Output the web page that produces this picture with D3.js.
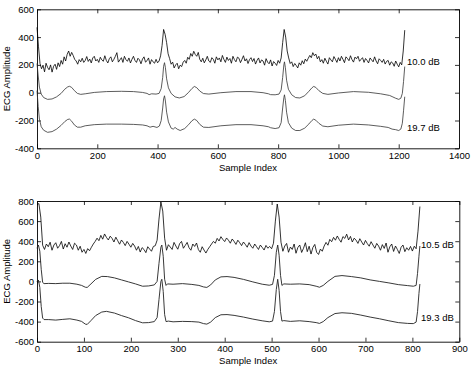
<!DOCTYPE html>
<html>
<head>
<meta charset="utf-8">
<script src="https://cdn.jsdelivr.net/npm/d3@7"></script>
<style>
  body { margin: 0; background: #fff; }
  svg text { font-family: "Liberation Sans", Arial, sans-serif; }
</style>
</head>
<body>
<svg id="chart"></svg>
<script>
// ---- data ----
// Top panel: noisy trace (10.0 dB), one value every 5 samples from 0
const topNoisyStep = 5;
const topNoisy = [
  470,330,210,172,198,150,212,182,165,200,
  148,190,205,168,215,188,232,205,258,228,
  275,300,262,290,268,240,228,205,238,222,
  248,218,232,260,225,242,214,250,262,228,
  240,218,255,236,226,266,232,214,245,258,
  222,240,262,288,220,236,252,218,262,238,
  226,250,214,240,262,232,218,248,236,208,
  242,258,220,230,250,205,238,222,212,240,
  215,228,265,340,455,420,360,280,245,205,
  220,178,200,212,172,198,188,220,232,212,
  255,240,282,262,298,275,262,290,240,222,
  248,215,236,262,228,218,252,240,212,258,
  236,250,222,268,240,218,256,232,246,212,
  262,238,222,256,248,216,240,266,228,244,
  210,238,252,224,246,206,232,250,214,236,
  228,198,245,220,208,236,192,224,212,196,
  232,212,250,360,455,400,300,250,210,222,
  188,210,196,178,215,198,230,208,242,226,
  248,268,252,288,266,278,244,262,222,238,
  212,248,226,206,252,236,222,260,240,218,
  252,228,262,240,216,258,246,230,266,238,
  220,256,244,262,226,240,252,218,246,232,
  214,250,236,222,258,228,208,244,232,218,
  240,206,226,232,198,222,214,190,228,205,
  186,218,200,300,450
];

// Top panel: clean reference trace, [sample, amplitude]
const topClean = [
  [0,210],[4,120],[8,40],[14,-10],[22,-35],[35,-48],[50,-45],[65,-30],[80,-5],[92,25],
  [102,42],[108,46],[115,38],[124,15],[134,-5],[145,-12],[160,-8],[190,2],[230,8],[280,10],
  [320,8],[350,2],[365,-5],[372,-14],[380,-8],[395,-10],[405,-5],[412,30],[417,110],[420,190],
  [423,216],[426,180],[430,100],[436,35],[445,-5],[458,-30],[472,-38],[488,-28],[502,0],[514,30],
  [522,45],[530,36],[540,12],[552,-6],[570,-10],[610,0],[660,8],[710,8],[750,0],[768,-8],
  [775,-14],[790,-15],[803,-10],[810,20],[815,110],[819,200],[821,222],[824,180],[828,90],[834,25],
  [845,-15],[858,-35],[872,-38],[888,-22],[902,10],[912,35],[918,45],[925,38],[935,15],[948,-5],
  [965,-12],[1000,-2],[1050,8],[1100,3],[1140,-8],[1170,-20],[1178,-28],[1190,-40],[1200,-48],[1207,-40],
  [1212,-5],[1216,80],[1220,188]
];

// Top panel: denoised trace (19.7 dB), [sample, amplitude]
const topDenoised = [
  [0,15],[4,-100],[8,-190],[14,-245],[22,-270],[35,-285],[50,-280],[65,-262],[80,-235],[92,-208],
  [102,-192],[108,-190],[115,-205],[124,-232],[134,-248],[145,-248],[160,-238],[190,-230],[230,-226],[280,-226],
  [320,-228],[350,-232],[365,-238],[375,-248],[385,-242],[398,-250],[406,-240],[412,-200],[417,-110],[420,-45],
  [423,-22],[426,-60],[430,-140],[436,-210],[445,-255],[452,-262],[458,-250],[465,-262],[475,-272],[490,-258],
  [503,-230],[514,-202],[522,-190],[530,-200],[540,-228],[552,-248],[570,-250],[610,-238],[660,-230],[710,-230],
  [750,-238],[768,-245],[775,-252],[790,-258],[803,-252],[810,-215],[815,-110],[819,-35],[821,-15],[824,-55],
  [828,-140],[834,-215],[845,-255],[858,-272],[872,-272],[888,-255],[902,-225],[912,-200],[918,-190],[925,-198],
  [935,-220],[948,-240],[965,-245],[1000,-234],[1050,-226],[1100,-232],[1140,-242],[1165,-250],[1178,-262],[1190,-266],
  [1200,-272],[1207,-262],[1212,-220],[1216,-130],[1220,-29]
];

// Bottom panel: noisy trace (10.5 dB), one value every 4 samples from 0
const botNoisyStep = 4;
const botNoisy = [
  760,775,640,360,318,372,345,390,310,362,
  385,330,356,398,322,375,340,392,352,318,
  380,362,310,350,290,318,278,326,305,340,
  372,398,430,405,458,420,472,438,412,450,
  428,392,440,405,370,412,388,356,398,370,
  340,378,352,310,348,292,336,318,286,345,
  322,300,348,355,410,620,790,700,430,310,
  365,342,318,388,352,320,376,398,330,358,
  388,335,310,372,348,382,316,290,345,312,
  282,318,345,372,398,380,428,402,445,418,
  396,432,410,380,422,398,368,410,385,356,
  392,368,340,386,352,330,372,345,318,362,
  338,312,358,330,348,325,380,600,770,640,
  390,300,352,378,290,342,318,372,280,338,
  362,288,330,385,296,350,272,338,368,290,
  268,322,300,352,388,360,418,395,438,410,
  452,418,390,446,428,470,412,448,392,430,
  410,378,425,392,362,408,376,350,395,362,
  330,378,352,310,366,328,382,290,345,372,
  298,352,318,278,340,362,296,335,310,348,
  302,350,325,500,745
];

// Bottom panel: clean reference trace, [sample, amplitude]
const botClean = [
  [0,330],[3,362],[6,300],[9,120],[12,-10],[15,-22],[25,-20],[40,-22],[55,-18],[70,-18],
  [85,-28],[95,-40],[103,-58],[107,-60],[115,-25],[125,20],[138,50],[150,48],[165,35],[180,15],
  [195,-5],[210,-25],[225,-48],[238,-45],[250,-35],[256,0],[260,180],[264,340],[266,362],[269,250],
  [272,20],[275,-40],[278,-25],[290,-28],[310,-22],[330,-30],[345,-40],[355,-55],[362,-60],[370,-35],
  [380,15],[392,45],[405,48],[420,40],[440,20],[460,-5],[480,-28],[495,-38],[502,-30],[506,60],
  [510,290],[513,362],[516,260],[519,60],[522,-40],[526,-25],[540,-28],[560,-25],[580,-32],[595,-48],
  [602,-58],[610,-40],[620,0],[635,50],[650,58],[670,48],[690,35],[710,15],[730,0],[750,-15],
  [770,-32],[790,-42],[802,-48],[808,-40],[811,80],[814,250],[816,352]
];

// Bottom panel: denoised trace (19.3 dB), [sample, amplitude]
const botDenoised = [
  [0,0],[3,14],[6,-60],[9,-250],[12,-365],[15,-380],[25,-380],[40,-385],[55,-378],[70,-372],
  [85,-385],[95,-398],[103,-425],[107,-428],[115,-390],[125,-340],[138,-305],[148,-298],[165,-315],[180,-340],
  [195,-362],[210,-390],[225,-412],[238,-410],[250,-400],[256,-360],[260,-180],[264,0],[266,21],[269,-100],
  [272,-330],[275,-400],[280,-395],[290,-402],[310,-398],[330,-400],[345,-405],[355,-420],[362,-425],[370,-405],
  [380,-360],[392,-332],[405,-330],[420,-338],[440,-355],[460,-375],[480,-392],[495,-402],[502,-395],[506,-300],
  [510,-80],[513,21],[516,-90],[519,-300],[522,-395],[526,-390],[540,-398],[560,-392],[580,-400],[595,-410],
  [602,-418],[610,-400],[620,-360],[635,-320],[650,-312],[670,-318],[690,-335],[710,-355],[730,-372],[750,-392],
  [770,-410],[790,-418],[802,-420],[808,-405],[811,-300],[814,-120],[816,-26]
];

// axis ticks
const topXTicks = [0, 200, 400, 600, 800, 1000, 1200, 1400];
const topYTicks = [-400, -200, 0, 200, 400, 600];
const botXTicks = [0, 100, 200, 300, 400, 500, 600, 700, 800, 900];
const botYTicks = [-600, -400, -200, 0, 200, 400, 600, 800];

// annotation labels
const topLabels = [{ text: "10.0 dB", value: 225 }, { text: "19.7 dB", value: -250 }];
const botLabels = [{ text: "10.5 dB", value: 365 }, { text: "19.3 dB", value: -360 }];

// ---- drawing ----
const width = 474, height = 366;
const svg = d3.select("#chart").attr("width", width).attr("height", height);

const fontSize = 9.5;

function toPairs(values, step) {
  return values.map((v, i) => [i * step, v]);
}

function drawPanel(cfg) {
  const x = d3.scaleLinear().domain(cfg.xDomain).range([cfg.left, cfg.right]);
  const y = d3.scaleLinear().domain(cfg.yDomain).range([cfg.bottom, cfg.top]);
  const fmt = d => String(d);

  const g = svg.append("g");

  // bottom axis with labels, ticks pointing inward
  const ax = g.append("g")
    .attr("transform", `translate(0,${cfg.bottom})`)
    .call(d3.axisBottom(x).tickValues(cfg.xTicks).tickFormat(fmt).tickSize(-4).tickSizeOuter(0).tickPadding(3.5));
  const ay = g.append("g")
    .attr("transform", `translate(${cfg.left},0)`)
    .call(d3.axisLeft(y).tickValues(cfg.yTicks).tickFormat(fmt).tickSize(-4).tickSizeOuter(0).tickPadding(3));
  // top and right: ticks only
  const at = g.append("g")
    .attr("transform", `translate(0,${cfg.top})`)
    .call(d3.axisTop(x).tickValues(cfg.xTicks).tickFormat("").tickSize(-4).tickSizeOuter(0));
  const ar = g.append("g")
    .attr("transform", `translate(${cfg.right},0)`)
    .call(d3.axisRight(y).tickValues(cfg.yTicks).tickFormat("").tickSize(-4).tickSizeOuter(0));

  [ax, ay, at, ar].forEach(a => {
    a.selectAll("path.domain").attr("stroke", "#000").attr("stroke-width", 0.9);
    a.selectAll(".tick line").attr("stroke", "#000").attr("stroke-width", 0.8);
    a.selectAll("text")
      .attr("fill", "#000")
      .style("font-size", fontSize + "px")
      .style("font-family", "'Liberation Sans', Arial, sans-serif");
  });

  // traces
  const line = d3.line().x(d => x(d[0])).y(d => y(d[1]));
  cfg.series.forEach(s => {
    g.append("path")
      .datum(s.data)
      .attr("fill", "none")
      .attr("stroke", s.color)
      .attr("stroke-width", s.width)
      .attr("stroke-linejoin", "round")
      .attr("d", line);
  });

  // dB labels
  g.selectAll(".db-label")
    .data(cfg.labels)
    .enter()
    .append("text")
    .attr("class", "db-label")
    .attr("x", cfg.labelX)
    .attr("y", d => y(d.value))
    .attr("dy", "0.35em")
    .attr("font-size", fontSize + "px")
    .attr("fill", "#000")
    .text(d => d.text);

  // axis titles
  g.append("text")
    .attr("x", (cfg.left + cfg.right) / 2)
    .attr("y", cfg.xTitleY)
    .attr("text-anchor", "middle")
    .attr("font-size", fontSize + "px")
    .attr("fill", "#000")
    .text("Sample Index");

  g.append("text")
    .attr("transform", `translate(9.5,${(cfg.top + cfg.bottom) / 2}) rotate(-90)`)
    .attr("text-anchor", "middle")
    .attr("font-size", fontSize + "px")
    .attr("fill", "#000")
    .text("ECG Amplitude");
}

drawPanel({
  xDomain: [0, 1400], yDomain: [-400, 600],
  left: 37, right: 459, top: 9.3, bottom: 148.3,
  xTicks: topXTicks, yTicks: topYTicks,
  xTitleY: 171,
  labelX: 407,
  labels: topLabels,
  series: [
    { data: toPairs(topNoisy, topNoisyStep), color: "#000", width: 0.8 },
    { data: topClean, color: "#333", width: 0.8 },
    { data: topDenoised, color: "#333", width: 0.8 }
  ]
});

drawPanel({
  xDomain: [0, 900], yDomain: [-600, 800],
  left: 37, right: 459.3, top: 201, bottom: 341.7,
  xTicks: botXTicks, yTicks: botYTicks,
  xTitleY: 363.5,
  labelX: 421,
  labels: botLabels,
  series: [
    { data: toPairs(botNoisy, botNoisyStep), color: "#000", width: 0.8 },
    { data: botClean, color: "#222", width: 0.9 },
    { data: botDenoised, color: "#222", width: 0.9 }
  ]
});
</script>
</body>
</html>
